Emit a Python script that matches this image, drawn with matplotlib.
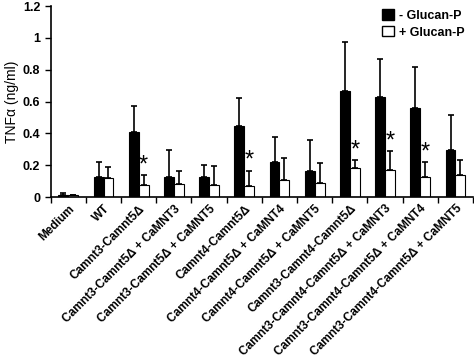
import numpy as np
import matplotlib.pyplot as plt
from matplotlib.patches import Patch

plt.rcParams['font.family'] = ['Liberation Sans', 'DejaVu Sans']
plt.rcParams['font.weight'] = 'bold'

groups = ['Medium', 'WT', 'Camnt3-Camnt5Δ', 'Camnt3-Camnt5Δ + CaMNT3',
          'Camnt3-Camnt5Δ + CaMNT5', 'Camnt4-Camnt5Δ', 'Camnt4-Camnt5Δ + CaMNT4',
          'Camnt4-Camnt5Δ + CaMNT5', 'Camnt3-Camnt4-Camnt5Δ',
          'Camnt3-Camnt4-Camnt5Δ + CaMNT3', 'Camnt3-Camnt4-Camnt5Δ + CaMNT4',
          'Camnt3-Camnt4-Camnt5Δ + CaMNT5']
minus_glucan = [0.015, 0.125, 0.41, 0.125, 0.125, 0.448, 0.223, 0.167, 0.665, 0.63, 0.559, 0.298]
minus_err = [0.013, 0.098, 0.163, 0.173, 0.075, 0.177, 0.152, 0.19, 0.308, 0.237, 0.258, 0.219]
plus_glucan = [0.015, 0.12, 0.075, 0.085, 0.075, 0.071, 0.108, 0.09, 0.181, 0.171, 0.127, 0.142]
plus_err = [0.0, 0.07, 0.063, 0.082, 0.123, 0.096, 0.14, 0.125, 0.054, 0.119, 0.092, 0.093]
significant = [False, False, True, False, False, True, False, False, True, True, True, False]

fig = plt.figure(figsize=(4.74, 3.63), dpi=100)
ax = fig.add_axes([0.107, 0.457, 0.891, 0.526])

x = np.arange(len(groups))
w = 0.28
ekw = dict(ecolor='black', elinewidth=1.2, capsize=2.2, capthick=1.2)
ax.bar(x - w/2, minus_glucan, w, color='black', edgecolor='black', linewidth=0.8,
       yerr=[np.zeros(len(x)), minus_err], error_kw=ekw)
ax.bar(x + w/2, plus_glucan, w, color='white', edgecolor='black', linewidth=0.8,
       yerr=[np.zeros(len(x)), plus_err], error_kw=ekw)

for i in range(len(x)):
    if significant[i]:
        ax.text(x[i] + w/2, plus_glucan[i] + plus_err[i] + 0.06, '*', ha='center', va='center',
                fontsize=17, fontweight='normal')

ax.set_xlim(-0.5, len(groups) - 0.5)
ax.set_ylim(0, 1.2)
ax.set_yticks([0, 0.2, 0.4, 0.6, 0.8, 1, 1.2])
ax.set_yticklabels(['0', '0.2', '0.4', '0.6', '0.8', '1', '1.2'])
ax.set_xticks(x)
ax.set_xticklabels(groups, rotation=45, ha='right', rotation_mode='anchor')
ax.set_xticks(np.arange(-0.5, len(groups)), minor=True)
ax.tick_params(axis='x', which='major', length=0, pad=4, labelsize=8.6)
ax.tick_params(axis='x', which='minor', length=4, width=1)
ax.tick_params(axis='y', length=4, width=1, labelsize=9)
ax.spines['top'].set_visible(False)
ax.spines['right'].set_visible(False)
ax.spines['left'].set_linewidth(1.2)
ax.spines['bottom'].set_linewidth(1.2)
ax.set_ylabel('TNFα (ng/ml)', fontsize=10, labelpad=3)

handles = [Patch(facecolor='black', edgecolor='black'), Patch(facecolor='white', edgecolor='black')]
ax.legend(handles, ['- Glucan-P', '+ Glucan-P'], loc='upper right', bbox_to_anchor=(1.0, 1.03),
          frameon=False, fontsize=9, handlelength=0.9, handleheight=0.9, handletextpad=0.4,
          labelspacing=0.35, borderpad=0.2)

fig.savefig('out.png', dpi=100)
